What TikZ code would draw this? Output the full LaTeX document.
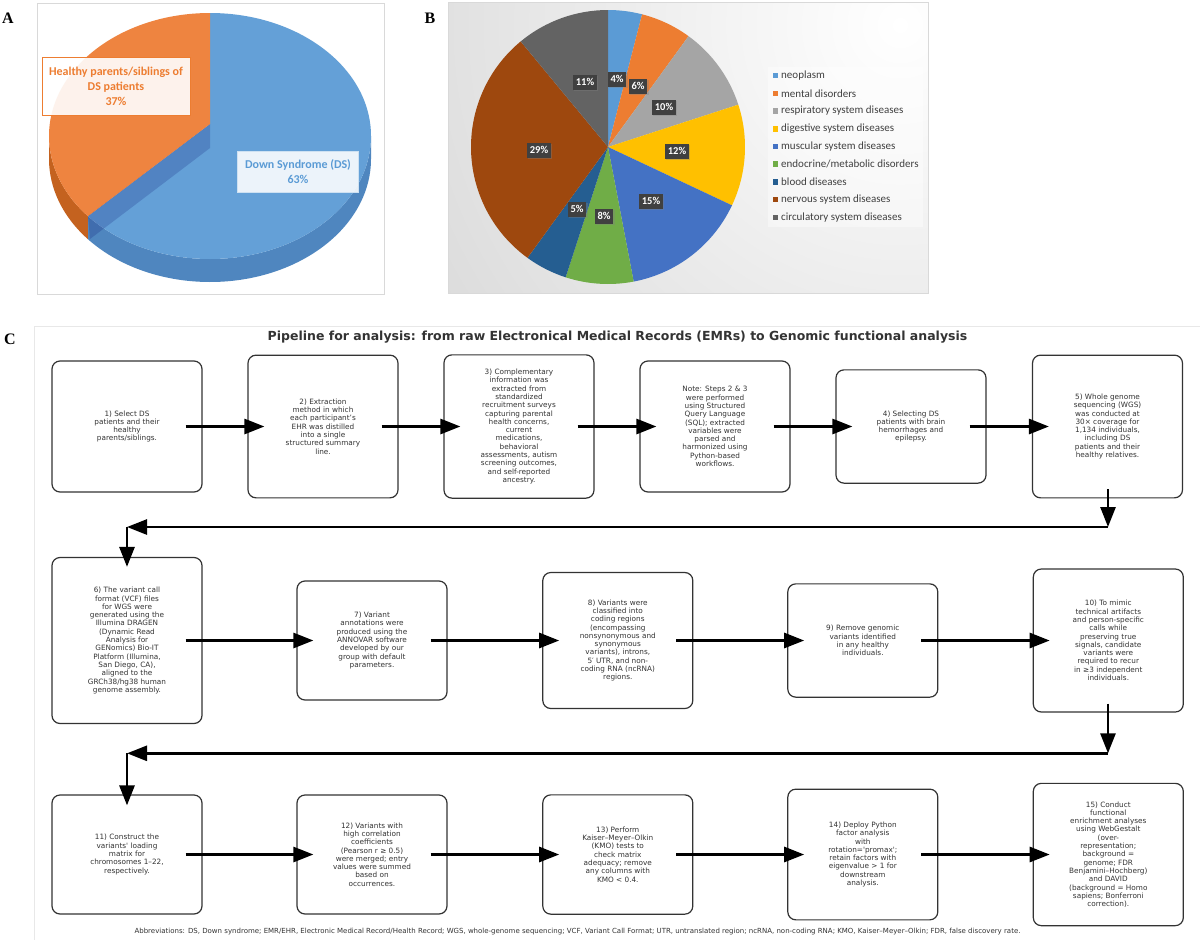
\documentclass[tikz,border=0pt]{standalone}
\usepackage{fontspec}
\setmainfont{Liberation Serif}
\newfontfamily\carlito{Carlito}
\newfontfamily\dejavu{DejaVu Sans}
\usetikzlibrary{arrows.meta,calc,shadows}
\definecolor{xorange}{HTML}{ED7D31}
\definecolor{xblue}{HTML}{5B9BD5}
\definecolor{aorange}{HTML}{EE8440}
\definecolor{ablue}{HTML}{64A0D7}
\definecolor{aoside}{HTML}{C4621F}
\definecolor{abside}{HTML}{4F86BF}
\definecolor{sgray}{HTML}{A5A5A5}
\definecolor{syellow}{HTML}{FFC000}
\definecolor{sblue2}{HTML}{4472C4}
\definecolor{sgreen}{HTML}{70AD47}
\definecolor{sdblue}{HTML}{255E91}
\definecolor{sbrown}{HTML}{9E480E}
\definecolor{sdgray}{HTML}{636363}
\definecolor{lblfill}{HTML}{404040}
\definecolor{legtext}{HTML}{404040}
\definecolor{framegray}{HTML}{D9D9D9}
\definecolor{cframe}{HTML}{E8E8E8}
\definecolor{boxline}{HTML}{333333}
\definecolor{boxtext}{HTML}{333333}
\definecolor{titlegray}{HTML}{333333}
\definecolor{bgouter}{HTML}{BDBDBD}
\tikzset{
  pbox/.style={draw=boxline, line width=1.2pt, rounded corners=8pt, fill=white,
    minimum width=150pt, inner sep=0pt, align=center, text=boxtext,
    font=\dejavu\fontsize{7.3}{8.3}\selectfont},
  arr/.style={line width=2.7pt, draw=black, -{Triangle[length=20pt,width=15pt]}},
  panel/.style={font=\bfseries\fontsize{16}{16}\selectfont},
  pct/.style={fill=lblfill, text=white, font=\carlito\bfseries\fontsize{10.5}{11}\selectfont,
    inner xsep=3pt, inner ysep=0pt, minimum height=15pt,
    drop shadow={shadow xshift=1.2pt, shadow yshift=-1.2pt, opacity=0.35}},
  legtxt/.style={anchor=west, text=legtext, font=\carlito\fontsize{11}{12}\selectfont, inner sep=0pt},
  legbox/.style={inner sep=0pt, minimum size=5.5pt}
}
\begin{document}
\begin{tikzpicture}[x=1pt,y=-1pt]
\useasboundingbox (0,0) rectangle (1200,940);
\fill[white] (0,0) rectangle (1200,940);

% ---------------- Panel A ----------------
\node[panel] (labA) at (8,18) {A};
\draw[framegray, line width=0.8pt] (37,3) rectangle (384,294);
% sides
\fill[abside] (210,136) ++(0:161 and 123) arc[start angle=0, end angle=139.3, x radius=161, y radius=123]
  -- ++(0,23) arc[start angle=139.3, end angle=0, x radius=161, y radius=123] -- cycle;
\fill[aoside] (210,136) ++(139.3:161 and 123) arc[start angle=139.3, end angle=180, x radius=161, y radius=123]
  -- ++(0,23) arc[start angle=180, end angle=139.3, x radius=161, y radius=123] -- cycle;
% top faces
\coordinate (pc) at (210,124);
\fill[ablue] (pc) -- (210,13) arc[start angle=-90, end angle=139.3, x radius=161, y radius=123] -- cycle;
\fill[aorange] (pc) -- (210,13) arc[start angle=-90, end angle=-220.7, x radius=161, y radius=123] -- cycle;
\fill[blue!40!black, opacity=0.18] (pc) -- (88,216) -- (90,239) -- (210,148) -- cycle;
% labels
\node[draw=xorange, fill=white, fill opacity=0.9, text opacity=1, text=xorange, line width=0.8pt,
  minimum width=148pt, minimum height=58pt, align=center, inner sep=0pt,
  font=\carlito\bfseries\fontsize{12}{15}\selectfont] (lh) at (116,86)
  {Healthy parents/siblings of\\DS patients\\37\%};
\node[draw=xblue!30, fill=white, fill opacity=0.88, text opacity=1, text=xblue, line width=0.6pt,
  minimum width=121pt, minimum height=41pt, align=center, inner sep=0pt,
  font=\carlito\bfseries\fontsize{12}{15}\selectfont] (ld) at (298,172)
  {Down Syndrome (DS)\\63\%};

% ---------------- Panel B ----------------
\node[panel] (labB) at (430,18) {B};
\begin{scope}
  \clip (448,2) rectangle (928,293);
  \shade[inner color=white, outer color=bgouter] (900,25) circle (1000);
\end{scope}
\draw[framegray, line width=0.6pt] (448,2) rectangle (928,293);
\coordinate (bc) at (608,147);
\fill[xblue]  (bc) -- ++(-90:137)   arc[start angle=-90,  end angle=-75.6, radius=137] -- cycle;
\fill[xorange](bc) -- ++(-75.6:137) arc[start angle=-75.6,end angle=-54,   radius=137] -- cycle;
\fill[sgray]  (bc) -- ++(-54:137)   arc[start angle=-54,  end angle=-18,   radius=137] -- cycle;
\fill[syellow](bc) -- ++(-18:137)   arc[start angle=-18,  end angle=25.2,  radius=137] -- cycle;
\fill[sblue2] (bc) -- ++(25.2:137)  arc[start angle=25.2, end angle=79.2,  radius=137] -- cycle;
\fill[sgreen] (bc) -- ++(79.2:137)  arc[start angle=79.2, end angle=108,   radius=137] -- cycle;
\fill[sdblue] (bc) -- ++(108:137)   arc[start angle=108,  end angle=126,   radius=137] -- cycle;
\fill[sbrown] (bc) -- ++(126:137)   arc[start angle=126,  end angle=230.4, radius=137] -- cycle;
\fill[sdgray] (bc) -- ++(230.4:137) arc[start angle=230.4,end angle=270,   radius=137] -- cycle;
\node[pct] (p4)  at (617,79)  {4\%};
\node[pct] (p6)  at (638,86)  {6\%};
\node[pct] (p10) at (664,107) {10\%};
\node[pct] (p12) at (677,151) {12\%};
\node[pct] (p15) at (651,201) {15\%};
\node[pct] (p8)  at (604,216) {8\%};
\node[pct] (p5)  at (577,209) {5\%};
\node[pct] (p29) at (539,150) {29\%};
\node[pct] (p11) at (585,82)  {11\%};
% legend
\fill[white, opacity=0.4] (768,67) rectangle (923,227);
\foreach \yy/\cc/\tt [count=\i] in {75.7/xblue/{neoplasm}, 93.3/xorange/{mental disorders},
  111/sgray/{respiratory system diseases}, 128.8/syellow/{digestive system diseases},
  146.5/sblue2/{muscular system diseases}, 164.2/sgreen/{endocrine/metabolic disorders},
  182/sdblue/{blood diseases}, 199.7/sbrown/{nervous system diseases},
  217.4/sdgray/{circulatory system diseases}}{
  \node[legbox, fill=\cc] (lm\i) at (775.5,\yy) {};
  \node[legtxt] (lt\i) at (781,\yy) {\tt};
}

% ---------------- Panel C ----------------
\node[panel] (labC) at (10,339) {C};
\draw[cframe, line width=1pt] (34,940) -- (34,326) -- (1200,326);
\node[font=\dejavu\bfseries\fontsize{12.5}{13}\selectfont, text=titlegray] (title) at (617.5,337)
  {Pipeline for analysis: from raw Electronical Medical Records (EMRs) to Genomic functional analysis};

% row 1
\node[pbox, minimum height=131pt]   (b1) at (127,426.5)  {1) Select DS\\patients and their\\healthy\\parents/siblings.};
\node[pbox, minimum height=142.7pt] (b2) at (323,426.5)  {2) Extraction\\method in which\\each participant’s\\EHR was distilled\\into a single\\structured summary\\line.};
\node[pbox, minimum height=143.3pt] (b3) at (519,426.5)  {3) Complementary\\information was\\extracted from\\standardized\\recruitment surveys\\capturing parental\\health concerns,\\current\\medications,\\behavioral\\assessments, autism\\screening outcomes,\\and self-reported\\ancestry.};
\node[pbox, minimum height=131pt]   (b4) at (715,426.5)  {Note: Steps 2 \& 3\\were performed\\using Structured\\Query Language\\(SQL); extracted\\variables were\\parsed and\\harmonized using\\Python-based\\workflows.};
\node[pbox, minimum height=113.3pt] (b5) at (911,426.5)  {4) Selecting DS\\patients with brain\\hemorrhages and\\epilepsy.};
\node[pbox, minimum height=142.7pt] (b6) at (1107.5,426.5) {5) Whole genome\\sequencing (WGS)\\was conducted at\\30× coverage for\\1,134 individuals,\\including DS\\patients and their\\healthy relatives.};

% row 2
\node[pbox, minimum height=166pt]   (b7)  at (127,640.5)   {6) The variant call\\format (VCF) files\\for WGS were\\generated using the\\Illumina DRAGEN\\(Dynamic Read\\Analysis for\\GENomics) Bio-IT\\Platform (Illumina,\\San Diego, CA),\\aligned to the\\GRCh38/hg38 human\\genome assembly.};
\node[pbox, minimum height=119pt]   (b8)  at (372,640.5)   {7) Variant\\annotations were\\produced using the\\ANNOVAR software\\developed by our\\group with default\\parameters.};
\node[pbox, minimum height=136pt]   (b9)  at (617.8,640.5) {8) Variants were\\classified into\\coding regions\\(encompassing\\nonsynonymous and\\synonymous\\variants), introns,\\5′ UTR, and non-\\coding RNA (ncRNA)\\regions.};
\node[pbox, minimum height=113.3pt] (b10) at (862.8,640.5) {9) Remove genomic\\variants identified\\in any healthy\\individuals.};
\node[pbox, minimum height=143pt]   (b11) at (1108.3,640.5){10) To mimic\\technical artifacts\\and person-specific\\calls while\\preserving true\\signals, candidate\\variants were\\required to recur\\in ≥3 independent\\individuals.};

% row 3
\node[pbox, minimum height=119pt]   (b12) at (127,854.5)   {11) Construct the\\variants' loading\\matrix for\\chromosomes 1–22,\\respectively.};
\node[pbox, minimum height=119pt]   (b13) at (372,854.5)   {12) Variants with\\high correlation\\coefficients\\(Pearson r ≥ 0.5)\\were merged; entry\\values were summed\\based on\\occurrences.};
\node[pbox, minimum height=119.3pt] (b14) at (617.8,854.5) {13) Perform\\Kaiser–Meyer–Olkin\\(KMO) tests to\\check matrix\\adequacy; remove\\any columns with\\KMO < 0.4.};
\node[pbox, minimum height=130.7pt] (b15) at (862.8,854.5) {14) Deploy Python\\factor analysis\\with\\rotation='promax';\\retain factors with\\eigenvalue > 1 for\\downstream\\analysis.};
\node[pbox, minimum height=142.3pt] (b16) at (1108.3,854.5){15) Conduct\\functional\\enrichment analyses\\using WebGestalt\\(over-\\representation;\\background =\\genome; FDR\\Benjamini–Hochberg)\\and DAVID\\(background = Homo\\sapiens; Bonferroni\\correction).};

% horizontal arrows
\foreach \a/\b in {b1/b2,b2/b3,b3/b4,b4/b5,b5/b6,b7/b8,b8/b9,b9/b10,b10/b11,b12/b13,b13/b14,b14/b15,b15/b16}{
  \draw[arr] ($(\a.east)+(-17,0)$) -- ($(\b.west)+(17,0)$);
}
% row transitions
\coordinate (t1) at (1108,527);
\coordinate (t2) at (127,527);
\draw[arr] ($(b6.south)+(0.5,-9)$) -- (t1);
\draw[arr] (t1) -- (t2);
\draw[arr] (t2) -- ($(b7.north)+(0,10)$);
\coordinate (t3) at (1108,753.3);
\coordinate (t4) at (127,753.3);
\draw[arr] ($(b11.south)+(-0.3,-9)$) -- (t3);
\draw[arr] (t3) -- (t4);
\draw[arr] (t4) -- ($(b12.north)+(0,11)$);

\node[font=\dejavu\fontsize{7}{8}\selectfont, text=boxtext] (abbr) at (577.5,931.5)
  {Abbreviations: DS, Down syndrome; EMR/EHR, Electronic Medical Record/Health Record; WGS, whole-genome sequencing; VCF, Variant Call Format; UTR, untranslated region; ncRNA, non-coding RNA; KMO, Kaiser–Meyer–Olkin; FDR, false discovery rate.};
\end{tikzpicture}
\end{document}
